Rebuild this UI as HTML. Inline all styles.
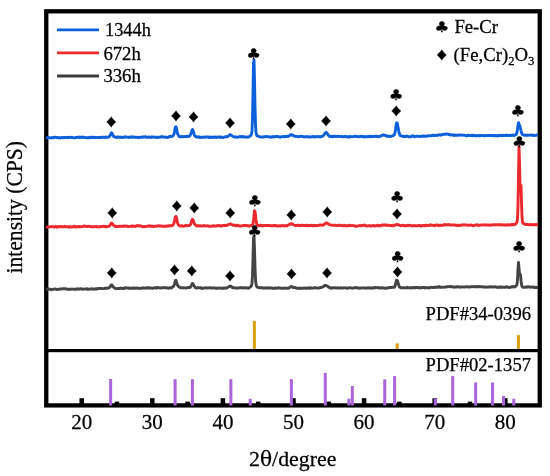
<!DOCTYPE html>
<html><head><meta charset="utf-8"><style>
html,body{margin:0;padding:0;background:#fff;}
svg{display:block;}
text{font-family:"Liberation Serif",serif;fill:#000;stroke:#000;stroke-width:0.25px;}
.tl{font-size:20.6px;text-anchor:middle;}
.lg{font-size:18px;}
.lg2{font-size:18px;}
.pdf{font-size:18.6px;}
.club{font-family:"DejaVu Sans",sans-serif;font-size:14.3px;text-anchor:middle;}
.dia{font-size:17.3px;text-anchor:middle;}
</style></head><body>
<svg width="550" height="476" viewBox="0 0 550 476">
<rect width="550" height="476" fill="#fff"/>
<rect x="79.45" y="398.2" width="4.5" height="6" fill="#000"/><rect x="150.05" y="398.2" width="4.5" height="6" fill="#000"/><rect x="220.65" y="398.2" width="4.5" height="6" fill="#000"/><rect x="291.25" y="398.2" width="4.5" height="6" fill="#000"/><rect x="361.85" y="398.2" width="4.5" height="6" fill="#000"/><rect x="432.45" y="398.2" width="4.5" height="6" fill="#000"/><rect x="503.05" y="398.2" width="4.5" height="6" fill="#000"/><rect x="114.75" y="401.6" width="4.5" height="3" fill="#000"/><rect x="185.35" y="401.6" width="4.5" height="3" fill="#000"/><rect x="255.95" y="401.6" width="4.5" height="3" fill="#000"/><rect x="326.55" y="401.6" width="4.5" height="3" fill="#000"/><rect x="397.15" y="401.6" width="4.5" height="3" fill="#000"/><rect x="467.75" y="401.6" width="4.5" height="3" fill="#000"/>
<rect x="46.25" y="11.3" width="493.5" height="394.1" fill="none" stroke="#000" stroke-width="4.3"/>
<rect x="252.89" y="320.9" width="3" height="28.1" fill="#D9A012"/><rect x="395.71" y="343.4" width="3" height="5.6" fill="#D9A012"/><rect x="516.93" y="335.1" width="3" height="13.9" fill="#D9A012"/><rect x="109.15" y="379.0" width="3" height="26.5" fill="#AA64DC"/><rect x="173.60" y="379.2" width="3" height="26.3" fill="#AA64DC"/><rect x="190.90" y="379.2" width="3" height="26.3" fill="#AA64DC"/><rect x="229.38" y="379.2" width="3" height="26.3" fill="#AA64DC"/><rect x="248.72" y="398.8" width="3" height="6.7" fill="#AA64DC"/><rect x="289.88" y="379.1" width="3" height="26.4" fill="#AA64DC"/><rect x="323.77" y="372.9" width="3" height="32.6" fill="#AA64DC"/><rect x="347.42" y="398.7" width="3" height="6.8" fill="#AA64DC"/><rect x="350.81" y="386.0" width="3" height="19.5" fill="#AA64DC"/><rect x="383.22" y="379.4" width="3" height="26.1" fill="#AA64DC"/><rect x="393.10" y="376.1" width="3" height="29.4" fill="#AA64DC"/><rect x="433.84" y="398.4" width="3" height="7.1" fill="#AA64DC"/><rect x="451.20" y="376.1" width="3" height="29.4" fill="#AA64DC"/><rect x="474.15" y="382.4" width="3" height="23.1" fill="#AA64DC"/><rect x="491.09" y="382.5" width="3" height="23.0" fill="#AA64DC"/><rect x="502.03" y="396.0" width="3" height="9.5" fill="#AA64DC"/><rect x="512.27" y="398.8" width="3" height="6.7" fill="#AA64DC"/>
<polyline points="46.0,289.31 46.5,289.46 47.0,288.92 47.5,289.26 48.0,289.40 48.5,288.97 49.0,289.23 49.5,288.92 50.0,289.26 50.5,289.33 51.0,289.70 51.5,289.41 52.0,289.34 52.5,289.48 53.0,289.27 53.5,289.12 54.0,289.09 54.5,289.13 55.0,288.96 55.5,289.15 56.0,289.27 56.5,289.25 57.0,289.53 57.5,289.33 58.0,289.51 58.5,289.28 59.0,289.37 59.5,288.94 60.0,289.06 60.5,289.07 61.0,289.01 61.5,288.96 62.0,288.97 62.5,288.91 63.0,288.60 63.5,288.71 64.0,288.77 64.5,288.82 65.0,288.75 65.5,288.87 66.0,289.10 66.5,289.06 67.0,288.98 67.5,289.27 68.0,289.37 68.5,289.42 69.0,289.49 69.5,289.26 70.0,289.16 70.5,289.32 71.0,289.12 71.5,289.07 72.0,289.13 72.5,289.16 73.0,289.06 73.5,289.23 74.0,289.12 74.5,289.21 75.0,289.33 75.5,289.32 76.0,289.33 76.5,288.99 77.0,288.76 77.5,288.74 78.0,288.93 78.5,289.22 79.0,288.91 79.5,288.99 80.0,288.83 80.5,288.75 81.0,288.79 81.5,288.98 82.0,289.01 82.5,289.20 83.0,288.92 83.5,289.09 84.0,289.19 84.5,289.10 85.0,289.12 85.5,288.94 86.0,288.73 86.5,288.73 87.0,288.68 87.5,289.29 88.0,289.05 88.5,289.28 89.0,289.16 89.5,289.10 90.0,289.15 90.5,288.90 91.0,289.05 91.5,289.04 92.0,288.69 92.5,288.86 93.0,288.96 93.5,288.99 94.0,289.21 94.5,288.99 95.0,289.01 95.5,289.07 96.0,288.80 96.5,289.02 97.0,288.67 97.5,288.49 98.0,288.70 98.5,288.54 99.0,288.61 99.5,288.38 100.0,288.54 100.5,288.42 101.0,288.61 101.5,288.38 102.0,288.59 102.5,288.59 103.0,288.64 103.5,288.64 104.0,288.67 104.5,288.42 105.0,288.04 105.5,288.26 106.0,288.22 106.5,288.26 107.0,288.43 107.5,288.07 108.0,288.04 108.5,287.97 109.0,287.72 109.5,287.58 110.0,287.04 110.5,286.13 111.0,285.15 111.5,284.87 112.0,284.94 112.5,285.85 113.0,286.80 113.5,287.12 114.0,287.50 114.5,287.91 115.0,288.19 115.5,288.43 116.0,288.58 116.5,288.70 117.0,288.53 117.5,288.45 118.0,288.59 118.5,288.45 119.0,288.63 119.5,288.26 120.0,288.45 120.5,288.41 121.0,288.06 121.5,288.37 122.0,288.44 122.5,288.43 123.0,288.22 123.5,288.20 124.0,288.55 124.5,288.33 125.0,287.72 125.5,287.82 126.0,287.82 126.5,288.00 127.0,288.07 127.5,288.01 128.0,287.98 128.5,288.30 129.0,288.05 129.5,288.50 130.0,288.32 130.5,288.11 131.0,288.32 131.5,288.40 132.0,288.16 132.5,288.33 133.0,287.97 133.5,287.91 134.0,288.24 134.5,288.19 135.0,287.96 135.5,288.15 136.0,288.34 136.5,288.27 137.0,287.91 137.5,287.96 138.0,288.12 138.5,288.27 139.0,288.56 139.5,288.35 140.0,288.18 140.5,288.15 141.0,288.35 141.5,288.09 142.0,288.33 142.5,287.74 143.0,288.02 143.5,287.92 144.0,288.06 144.5,288.19 145.0,287.92 145.5,287.96 146.0,288.03 146.5,288.14 147.0,287.92 147.5,287.78 148.0,287.52 148.5,288.17 149.0,288.06 149.5,287.99 150.0,287.71 150.5,287.99 151.0,287.89 151.5,288.18 152.0,288.26 152.5,288.15 153.0,288.21 153.5,287.92 154.0,287.88 154.5,287.82 155.0,287.65 155.5,287.79 156.0,287.84 156.5,288.15 157.0,287.48 157.5,287.55 158.0,287.55 158.5,287.64 159.0,287.84 159.5,287.97 160.0,287.97 160.5,287.88 161.0,288.00 161.5,288.05 162.0,287.68 162.5,287.74 163.0,287.58 163.5,287.51 164.0,287.71 164.5,287.81 165.0,287.88 165.5,287.74 166.0,287.77 166.5,287.66 167.0,287.82 167.5,287.97 168.0,288.24 168.5,288.31 169.0,287.97 169.5,287.82 170.0,287.63 170.5,287.71 171.0,288.04 171.5,287.98 172.0,287.36 172.5,287.06 173.0,286.67 173.5,286.37 174.0,285.41 174.5,283.93 175.0,282.30 175.5,280.48 176.0,280.19 176.5,281.93 177.0,283.80 177.5,285.23 178.0,285.99 178.5,286.51 179.0,286.60 179.5,287.09 180.0,287.37 180.5,287.72 181.0,287.73 181.5,287.64 182.0,287.58 182.5,288.03 183.0,287.64 183.5,287.76 184.0,287.80 184.5,287.93 185.0,287.83 185.5,287.92 186.0,288.03 186.5,287.92 187.0,287.79 187.5,287.75 188.0,287.56 188.5,287.56 189.0,287.50 189.5,287.47 190.0,287.48 190.5,287.15 191.0,286.12 191.5,285.06 192.0,283.90 192.5,283.43 193.0,283.76 193.5,284.81 194.0,285.81 194.5,286.53 195.0,287.28 195.5,287.77 196.0,287.94 196.5,287.98 197.0,287.98 197.5,287.86 198.0,287.55 198.5,287.81 199.0,287.89 199.5,287.80 200.0,287.68 200.5,288.01 201.0,287.65 201.5,288.09 202.0,288.14 202.5,288.49 203.0,288.15 203.5,288.07 204.0,287.93 204.5,287.97 205.0,287.93 205.5,287.81 206.0,288.06 206.5,287.88 207.0,287.82 207.5,287.98 208.0,287.88 208.5,287.84 209.0,287.95 209.5,287.89 210.0,287.70 210.5,287.79 211.0,287.82 211.5,288.19 212.0,287.90 212.5,288.10 213.0,287.91 213.5,287.87 214.0,287.85 214.5,287.95 215.0,288.11 215.5,288.37 216.0,288.09 216.5,288.28 217.0,288.33 217.5,288.33 218.0,288.05 218.5,288.17 219.0,288.07 219.5,288.09 220.0,287.99 220.5,288.09 221.0,288.23 221.5,288.32 222.0,288.13 222.5,288.23 223.0,288.37 223.5,288.02 224.0,288.24 224.5,287.86 225.0,287.96 225.5,288.02 226.0,288.20 226.5,288.06 227.0,287.79 227.5,287.49 228.0,287.09 228.5,287.05 229.0,286.67 229.5,286.21 230.0,286.16 230.5,286.05 231.0,286.27 231.5,286.61 232.0,287.32 232.5,287.78 233.0,287.80 233.5,287.56 234.0,287.75 234.5,287.82 235.0,287.92 235.5,288.01 236.0,287.91 236.5,288.08 237.0,288.16 237.5,288.10 238.0,287.95 238.5,287.85 239.0,288.00 239.5,287.77 240.0,287.79 240.5,287.70 241.0,287.53 241.5,287.78 242.0,287.82 242.5,287.85 243.0,288.02 243.5,287.69 244.0,287.74 244.5,287.83 245.0,287.97 245.5,287.71 246.0,287.86 246.5,287.85 247.0,288.03 247.5,288.08 248.0,287.98 248.5,288.17 249.0,287.86 249.5,287.53 250.0,287.25 250.5,286.84 251.0,286.53 251.5,285.47 252.0,283.21 252.5,275.40 253.0,257.93 253.5,237.97 254.0,236.07 254.5,249.19 255.0,267.08 255.5,278.99 256.0,284.23 256.5,285.89 257.0,286.89 257.5,287.27 258.0,287.22 258.5,287.51 259.0,287.68 259.5,287.68 260.0,287.74 260.5,287.72 261.0,287.68 261.5,287.45 262.0,287.62 262.5,287.96 263.0,288.20 263.5,288.05 264.0,287.88 264.5,287.88 265.0,288.07 265.5,288.10 266.0,287.95 266.5,288.03 267.0,287.98 267.5,288.08 268.0,287.98 268.5,287.74 269.0,287.86 269.5,288.06 270.0,287.86 270.5,287.91 271.0,288.11 271.5,288.02 272.0,287.92 272.5,288.33 273.0,288.36 273.5,288.42 274.0,288.11 274.5,288.38 275.0,287.96 275.5,287.91 276.0,288.10 276.5,288.32 277.0,288.06 277.5,287.95 278.0,288.03 278.5,287.71 279.0,287.97 279.5,288.11 280.0,288.02 280.5,288.14 281.0,288.25 281.5,288.24 282.0,288.27 282.5,288.46 283.0,288.22 283.5,288.19 284.0,288.05 284.5,288.24 285.0,288.09 285.5,288.16 286.0,288.13 286.5,288.10 287.0,288.35 287.5,288.16 288.0,288.26 288.5,288.15 289.0,288.06 289.5,287.59 290.0,287.33 290.5,287.00 291.0,286.54 291.5,286.53 292.0,286.65 292.5,286.94 293.0,287.49 293.5,287.56 294.0,287.47 294.5,287.42 295.0,287.62 295.5,287.70 296.0,287.87 296.5,288.07 297.0,288.40 297.5,288.34 298.0,288.34 298.5,288.14 299.0,288.24 299.5,288.44 300.0,288.56 300.5,288.06 301.0,288.25 301.5,288.48 302.0,288.49 302.5,288.09 303.0,288.06 303.5,288.19 304.0,288.24 304.5,288.06 305.0,287.93 305.5,288.18 306.0,287.93 306.5,288.25 307.0,288.20 307.5,288.22 308.0,287.95 308.5,287.91 309.0,288.11 309.5,287.85 310.0,288.31 310.5,287.98 311.0,287.81 311.5,287.92 312.0,288.07 312.5,288.19 313.0,288.08 313.5,288.03 314.0,288.00 314.5,287.91 315.0,287.51 315.5,287.88 316.0,287.98 316.5,288.01 317.0,287.89 317.5,287.96 318.0,287.95 318.5,287.92 319.0,288.09 319.5,287.69 320.0,287.76 320.5,287.53 321.0,287.46 321.5,287.66 322.0,287.24 322.5,287.03 323.0,286.68 323.5,286.59 324.0,286.05 324.5,285.50 325.0,285.50 325.5,285.39 326.0,285.43 326.5,285.85 327.0,285.93 327.5,286.22 328.0,286.61 328.5,286.99 329.0,287.13 329.5,287.54 330.0,288.02 330.5,287.87 331.0,288.19 331.5,287.70 332.0,288.02 332.5,287.91 333.0,287.93 333.5,287.87 334.0,287.78 334.5,287.62 335.0,287.67 335.5,288.00 336.0,288.17 336.5,288.02 337.0,287.89 337.5,287.79 338.0,287.64 338.5,288.07 339.0,288.13 339.5,288.08 340.0,287.94 340.5,287.76 341.0,288.06 341.5,288.14 342.0,287.90 342.5,288.08 343.0,287.83 343.5,287.98 344.0,287.79 344.5,287.78 345.0,287.92 345.5,288.00 346.0,288.14 346.5,287.91 347.0,288.19 347.5,288.31 348.0,288.15 348.5,288.14 349.0,287.91 349.5,287.88 350.0,287.66 350.5,287.77 351.0,287.86 351.5,288.11 352.0,288.19 352.5,288.21 353.0,288.02 353.5,287.93 354.0,287.85 354.5,287.90 355.0,287.56 355.5,287.82 356.0,287.58 356.5,287.61 357.0,287.72 357.5,287.70 358.0,288.06 358.5,287.97 359.0,288.21 359.5,288.28 360.0,288.03 360.5,288.04 361.0,288.20 361.5,288.01 362.0,287.97 362.5,287.84 363.0,287.86 363.5,287.81 364.0,287.85 364.5,288.03 365.0,288.21 365.5,288.10 366.0,288.04 366.5,288.12 367.0,287.97 367.5,287.74 368.0,287.99 368.5,287.78 369.0,287.97 369.5,287.76 370.0,288.12 370.5,287.83 371.0,287.99 371.5,288.20 372.0,287.90 372.5,288.14 373.0,287.88 373.5,287.57 374.0,287.81 374.5,287.95 375.0,287.87 375.5,287.43 376.0,287.59 376.5,287.64 377.0,287.66 377.5,287.68 378.0,287.44 378.5,287.50 379.0,287.95 379.5,288.17 380.0,287.97 380.5,287.79 381.0,287.88 381.5,288.04 382.0,288.08 382.5,287.78 383.0,287.82 383.5,287.84 384.0,288.08 384.5,288.18 385.0,288.12 385.5,288.20 386.0,287.97 386.5,288.17 387.0,287.94 387.5,287.94 388.0,288.03 388.5,287.76 389.0,287.63 389.5,287.37 390.0,287.53 390.5,287.59 391.0,287.56 391.5,287.67 392.0,287.26 392.5,287.35 393.0,287.39 393.5,287.28 394.0,287.27 394.5,287.14 395.0,286.06 395.5,284.26 396.0,281.97 396.5,280.20 397.0,280.21 397.5,281.04 398.0,282.68 398.5,284.20 399.0,285.83 399.5,286.77 400.0,287.28 400.5,287.82 401.0,287.71 401.5,287.67 402.0,287.76 402.5,287.88 403.0,287.58 403.5,287.69 404.0,287.58 404.5,287.75 405.0,287.99 405.5,287.91 406.0,287.83 406.5,287.84 407.0,287.30 407.5,287.62 408.0,287.78 408.5,287.81 409.0,287.73 409.5,287.62 410.0,287.66 410.5,287.92 411.0,287.85 411.5,288.06 412.0,287.50 412.5,287.54 413.0,287.69 413.5,287.72 414.0,287.46 414.5,287.48 415.0,287.82 415.5,287.58 416.0,287.49 416.5,287.42 417.0,287.47 417.5,287.71 418.0,287.84 418.5,287.47 419.0,287.85 419.5,287.72 420.0,287.65 420.5,287.98 421.0,287.87 421.5,287.59 422.0,287.53 422.5,287.47 423.0,287.38 423.5,287.43 424.0,287.67 424.5,287.72 425.0,287.44 425.5,287.99 426.0,287.66 426.5,287.64 427.0,287.62 427.5,287.72 428.0,287.59 428.5,287.64 429.0,287.95 429.5,287.78 430.0,287.47 430.5,287.52 431.0,287.35 431.5,287.32 432.0,287.39 432.5,287.45 433.0,287.37 433.5,287.52 434.0,287.42 434.5,287.16 435.0,287.38 435.5,287.29 436.0,287.50 436.5,287.30 437.0,287.38 437.5,287.38 438.0,286.86 438.5,286.74 439.0,286.73 439.5,287.16 440.0,286.84 440.5,287.12 441.0,287.32 441.5,287.33 442.0,287.36 442.5,287.17 443.0,287.13 443.5,287.15 444.0,287.18 444.5,287.25 445.0,287.12 445.5,286.95 446.0,286.87 446.5,286.99 447.0,286.69 447.5,286.58 448.0,286.65 448.5,286.66 449.0,286.71 449.5,286.32 450.0,286.48 450.5,286.61 451.0,286.86 451.5,286.53 452.0,286.63 452.5,286.82 453.0,286.94 453.5,287.13 454.0,287.22 454.5,286.92 455.0,287.02 455.5,286.92 456.0,286.78 456.5,287.10 457.0,286.91 457.5,286.77 458.0,286.76 458.5,286.67 459.0,286.95 459.5,287.00 460.0,287.21 460.5,287.17 461.0,286.96 461.5,287.13 462.0,286.93 462.5,286.85 463.0,286.85 463.5,286.89 464.0,287.11 464.5,286.93 465.0,286.99 465.5,286.96 466.0,286.73 466.5,286.63 467.0,286.71 467.5,286.87 468.0,286.95 468.5,287.03 469.0,287.00 469.5,286.90 470.0,286.99 470.5,286.80 471.0,286.62 471.5,286.70 472.0,286.55 472.5,286.62 473.0,286.62 473.5,286.66 474.0,286.77 474.5,286.70 475.0,286.73 475.5,286.52 476.0,286.72 476.5,286.66 477.0,286.85 477.5,286.40 478.0,286.49 478.5,286.72 479.0,286.39 479.5,286.56 480.0,286.74 480.5,286.85 481.0,286.63 481.5,286.81 482.0,286.90 482.5,286.76 483.0,286.97 483.5,286.96 484.0,286.97 484.5,286.89 485.0,287.02 485.5,287.02 486.0,287.20 486.5,287.19 487.0,287.00 487.5,286.95 488.0,287.12 488.5,287.00 489.0,287.06 489.5,287.12 490.0,287.03 490.5,286.61 491.0,286.78 491.5,286.90 492.0,286.96 492.5,286.84 493.0,287.11 493.5,287.04 494.0,286.91 494.5,286.82 495.0,286.95 495.5,286.78 496.0,286.69 496.5,287.16 497.0,287.32 497.5,287.37 498.0,287.46 498.5,287.38 499.0,286.93 499.5,287.17 500.0,287.31 500.5,287.27 501.0,286.82 501.5,287.11 502.0,287.30 502.5,287.09 503.0,287.08 503.5,287.18 504.0,287.09 504.5,287.24 505.0,287.16 505.5,287.21 506.0,287.14 506.5,286.82 507.0,286.71 507.5,287.37 508.0,287.26 508.5,287.38 509.0,287.41 509.5,287.53 510.0,287.40 510.5,287.11 511.0,287.04 511.5,286.66 512.0,286.72 512.5,286.94 513.0,286.52 513.5,286.67 514.0,286.84 514.5,287.00 515.0,286.66 515.5,286.43 516.0,285.95 516.5,285.52 517.0,284.32 517.5,279.77 518.0,269.43 518.5,262.47 519.0,267.90 519.5,273.94 520.0,274.12 520.5,274.73 521.0,280.25 521.5,284.42 522.0,286.35 522.5,286.97 523.0,287.34 523.5,287.18 524.0,287.24 524.5,287.36 525.0,287.28 525.5,287.22 526.0,287.09 526.5,286.98 527.0,286.77 527.5,287.21 528.0,287.05 528.5,286.68 529.0,286.86 529.5,286.93 530.0,287.00 530.5,287.34 531.0,287.20 531.5,287.10 532.0,286.95 532.5,286.99 533.0,286.94 533.5,287.03 534.0,287.59 534.5,287.45 535.0,287.15 535.5,287.46 536.0,287.46 536.5,287.45 537.0,287.43 537.5,287.43 538.0,287.41" fill="none" stroke="#444" stroke-width="2.9" stroke-linejoin="round"/>
<polyline points="46.0,226.91 46.5,227.04 47.0,227.11 47.5,227.18 48.0,227.17 48.5,227.00 49.0,226.95 49.5,226.87 50.0,226.81 50.5,226.80 51.0,226.51 51.5,226.59 52.0,226.69 52.5,226.58 53.0,226.68 53.5,226.84 54.0,226.81 54.5,227.19 55.0,226.58 55.5,226.64 56.0,226.39 56.5,226.74 57.0,227.25 57.5,226.62 58.0,226.72 58.5,226.85 59.0,226.78 59.5,226.89 60.0,226.45 60.5,226.74 61.0,226.83 61.5,226.82 62.0,226.70 62.5,226.85 63.0,226.73 63.5,226.79 64.0,226.69 64.5,226.32 65.0,226.49 65.5,226.63 66.0,226.82 66.5,226.64 67.0,226.68 67.5,226.82 68.0,226.81 68.5,227.01 69.0,227.26 69.5,226.88 70.0,226.48 70.5,226.73 71.0,227.00 71.5,227.06 72.0,227.07 72.5,226.81 73.0,226.64 73.5,226.83 74.0,226.61 74.5,226.32 75.0,226.29 75.5,226.90 76.0,227.16 76.5,226.85 77.0,226.65 77.5,226.70 78.0,226.56 78.5,226.84 79.0,226.76 79.5,226.52 80.0,226.81 80.5,226.65 81.0,226.69 81.5,226.67 82.0,226.60 82.5,226.68 83.0,226.54 83.5,226.25 84.0,226.00 84.5,226.03 85.0,226.13 85.5,226.32 86.0,226.45 86.5,226.62 87.0,226.64 87.5,226.48 88.0,226.40 88.5,226.10 89.0,226.27 89.5,226.49 90.0,226.62 90.5,226.59 91.0,226.55 91.5,226.73 92.0,226.67 92.5,226.76 93.0,226.79 93.5,226.74 94.0,226.90 94.5,226.66 95.0,226.55 95.5,226.40 96.0,226.31 96.5,226.68 97.0,226.94 97.5,226.78 98.0,226.78 98.5,226.89 99.0,226.88 99.5,226.95 100.0,226.54 100.5,226.41 101.0,226.52 101.5,226.76 102.0,226.67 102.5,226.43 103.0,226.38 103.5,226.29 104.0,226.19 104.5,226.55 105.0,226.38 105.5,226.39 106.0,226.77 106.5,226.81 107.0,226.67 107.5,226.39 108.0,226.37 108.5,226.51 109.0,226.29 109.5,226.04 110.0,225.32 110.5,224.51 111.0,223.51 111.5,223.00 112.0,223.35 112.5,223.69 113.0,224.56 113.5,225.31 114.0,225.66 114.5,225.90 115.0,226.22 115.5,226.63 116.0,226.62 116.5,226.56 117.0,226.19 117.5,226.60 118.0,226.51 118.5,226.44 119.0,226.20 119.5,226.25 120.0,226.10 120.5,226.21 121.0,226.35 121.5,226.36 122.0,226.41 122.5,226.23 123.0,226.54 123.5,226.34 124.0,226.02 124.5,226.11 125.0,226.07 125.5,225.99 126.0,226.07 126.5,226.23 127.0,226.06 127.5,226.14 128.0,226.47 128.5,226.53 129.0,226.42 129.5,226.40 130.0,226.35 130.5,226.32 131.0,226.45 131.5,226.37 132.0,225.91 132.5,226.06 133.0,226.00 133.5,226.23 134.0,226.14 134.5,226.23 135.0,226.64 135.5,226.31 136.0,226.09 136.5,225.91 137.0,225.62 137.5,225.54 138.0,225.90 138.5,225.93 139.0,225.72 139.5,225.67 140.0,226.01 140.5,225.96 141.0,226.01 141.5,226.16 142.0,226.43 142.5,226.70 143.0,226.70 143.5,226.53 144.0,226.44 144.5,226.68 145.0,226.75 145.5,226.48 146.0,226.45 146.5,226.40 147.0,226.33 147.5,226.19 148.0,225.95 148.5,225.95 149.0,225.76 149.5,226.15 150.0,226.26 150.5,226.01 151.0,226.32 151.5,226.42 152.0,225.97 152.5,226.38 153.0,226.44 153.5,226.70 154.0,226.26 154.5,226.31 155.0,226.32 155.5,226.28 156.0,226.26 156.5,226.40 157.0,226.02 157.5,225.84 158.0,225.70 158.5,225.77 159.0,225.80 159.5,225.99 160.0,226.08 160.5,226.09 161.0,225.97 161.5,225.94 162.0,226.17 162.5,226.27 163.0,226.20 163.5,226.09 164.0,226.35 164.5,226.12 165.0,226.20 165.5,226.34 166.0,226.16 166.5,226.24 167.0,225.94 167.5,226.13 168.0,226.09 168.5,225.73 169.0,225.91 169.5,225.72 170.0,225.98 170.5,225.76 171.0,225.69 171.5,225.68 172.0,225.49 172.5,225.36 173.0,224.89 173.5,224.33 174.0,223.03 174.5,221.07 175.0,218.12 175.5,216.58 176.0,216.46 176.5,217.82 177.0,220.36 177.5,222.59 178.0,224.19 178.5,224.73 179.0,225.46 179.5,225.56 180.0,226.07 180.5,225.93 181.0,226.00 181.5,225.86 182.0,225.64 182.5,225.92 183.0,226.05 183.5,226.24 184.0,226.23 184.5,225.97 185.0,225.61 185.5,225.57 186.0,225.54 186.5,225.48 187.0,225.69 187.5,225.75 188.0,225.65 188.5,225.63 189.0,225.50 189.5,225.37 190.0,225.13 190.5,224.57 191.0,223.21 191.5,221.36 192.0,220.11 192.5,219.33 193.0,220.08 193.5,221.18 194.0,222.76 194.5,224.03 195.0,224.56 195.5,225.00 196.0,225.45 196.5,225.77 197.0,226.06 197.5,225.80 198.0,225.55 198.5,225.75 199.0,225.95 199.5,225.94 200.0,225.67 200.5,225.89 201.0,226.02 201.5,226.06 202.0,225.89 202.5,225.94 203.0,226.05 203.5,225.88 204.0,225.54 204.5,225.74 205.0,225.88 205.5,225.88 206.0,226.04 206.5,225.86 207.0,225.85 207.5,225.80 208.0,225.93 208.5,226.19 209.0,226.02 209.5,226.33 210.0,226.42 210.5,226.34 211.0,226.25 211.5,226.41 212.0,226.16 212.5,226.01 213.0,225.76 213.5,225.88 214.0,226.11 214.5,226.10 215.0,226.07 215.5,225.94 216.0,225.93 216.5,225.63 217.0,225.90 217.5,225.79 218.0,225.61 218.5,225.55 219.0,225.51 219.5,225.78 220.0,225.98 220.5,225.66 221.0,225.88 221.5,226.00 222.0,225.81 222.5,225.52 223.0,225.48 223.5,225.48 224.0,225.64 224.5,225.61 225.0,225.28 225.5,225.48 226.0,225.26 226.5,225.53 227.0,225.26 227.5,225.10 228.0,224.84 228.5,224.56 229.0,224.53 229.5,224.29 230.0,224.09 230.5,224.09 231.0,223.99 231.5,224.33 232.0,224.67 232.5,224.87 233.0,225.29 233.5,225.32 234.0,225.34 234.5,225.29 235.0,225.08 235.5,225.43 236.0,225.78 236.5,225.77 237.0,225.57 237.5,225.13 238.0,225.39 238.5,225.73 239.0,225.77 239.5,225.91 240.0,226.09 240.5,226.13 241.0,225.87 241.5,225.99 242.0,226.00 242.5,225.59 243.0,225.55 243.5,225.34 244.0,225.45 244.5,225.63 245.0,225.44 245.5,225.15 246.0,225.57 246.5,225.66 247.0,225.90 247.5,225.53 248.0,225.73 248.5,226.03 249.0,226.18 249.5,225.85 250.0,225.72 250.5,225.53 251.0,225.59 251.5,225.56 252.0,225.25 252.5,224.51 253.0,223.55 253.5,220.51 254.0,215.44 254.5,210.70 255.0,211.20 255.5,215.15 256.0,219.74 256.5,223.00 257.0,224.76 257.5,225.07 258.0,225.32 258.5,225.59 259.0,225.77 259.5,225.75 260.0,225.42 260.5,225.23 261.0,225.40 261.5,225.52 262.0,225.99 262.5,225.66 263.0,225.83 263.5,225.86 264.0,225.44 264.5,225.34 265.0,225.46 265.5,225.42 266.0,225.45 266.5,225.58 267.0,225.43 267.5,225.57 268.0,225.46 268.5,225.40 269.0,225.56 269.5,225.46 270.0,225.55 270.5,225.85 271.0,225.74 271.5,225.65 272.0,225.75 272.5,225.61 273.0,225.79 273.5,225.48 274.0,225.63 274.5,225.52 275.0,225.40 275.5,225.79 276.0,225.55 276.5,225.88 277.0,225.88 277.5,226.02 278.0,225.67 278.5,225.85 279.0,226.00 279.5,225.81 280.0,225.70 280.5,226.09 281.0,225.92 281.5,225.70 282.0,225.54 282.5,225.63 283.0,225.66 283.5,225.65 284.0,225.92 284.5,225.71 285.0,225.73 285.5,225.91 286.0,225.57 286.5,225.72 287.0,225.94 287.5,225.47 288.0,225.19 288.5,224.95 289.0,224.54 289.5,224.55 290.0,223.96 290.5,223.88 291.0,223.97 291.5,223.59 292.0,223.81 292.5,223.86 293.0,224.53 293.5,224.75 294.0,225.01 294.5,225.24 295.0,225.46 295.5,225.44 296.0,225.49 296.5,225.42 297.0,225.50 297.5,225.32 298.0,225.43 298.5,225.15 299.0,225.24 299.5,225.72 300.0,225.69 300.5,225.42 301.0,225.54 301.5,225.39 302.0,225.18 302.5,225.22 303.0,225.51 303.5,225.62 304.0,225.60 304.5,225.43 305.0,225.31 305.5,225.67 306.0,225.69 306.5,225.49 307.0,225.16 307.5,225.09 308.0,225.75 308.5,225.49 309.0,225.52 309.5,225.60 310.0,225.57 310.5,225.54 311.0,225.32 311.5,225.25 312.0,225.70 312.5,225.52 313.0,225.71 313.5,225.36 314.0,225.41 314.5,225.53 315.0,225.74 315.5,225.48 316.0,225.63 316.5,225.68 317.0,225.50 317.5,225.61 318.0,225.43 318.5,225.33 319.0,225.41 319.5,224.96 320.0,225.15 320.5,225.09 321.0,224.95 321.5,225.03 322.0,225.25 322.5,225.10 323.0,225.22 323.5,224.73 324.0,224.25 324.5,224.28 325.0,223.90 325.5,223.59 326.0,223.00 326.5,222.97 327.0,223.00 327.5,223.31 328.0,223.61 328.5,224.20 329.0,224.37 329.5,224.52 330.0,224.58 330.5,225.13 331.0,225.14 331.5,225.10 332.0,225.11 332.5,225.20 333.0,225.12 333.5,225.25 334.0,225.27 334.5,225.30 335.0,225.24 335.5,225.40 336.0,225.40 336.5,225.51 337.0,225.60 337.5,225.67 338.0,225.26 338.5,225.32 339.0,225.30 339.5,225.58 340.0,225.32 340.5,225.32 341.0,225.40 341.5,225.44 342.0,225.71 342.5,225.61 343.0,225.80 343.5,225.48 344.0,225.23 344.5,225.62 345.0,225.72 345.5,225.79 346.0,225.76 346.5,225.81 347.0,225.54 347.5,225.76 348.0,225.63 348.5,225.83 349.0,225.78 349.5,225.39 350.0,225.27 350.5,225.64 351.0,225.63 351.5,225.58 352.0,225.66 352.5,225.60 353.0,225.53 353.5,225.61 354.0,225.67 354.5,225.95 355.0,225.85 355.5,226.12 356.0,226.27 356.5,226.35 357.0,226.27 357.5,226.06 358.0,225.93 358.5,225.81 359.0,225.62 359.5,225.63 360.0,225.54 360.5,225.89 361.0,225.90 361.5,225.73 362.0,225.36 362.5,225.48 363.0,225.48 363.5,225.36 364.0,225.28 364.5,225.03 365.0,225.39 365.5,225.49 366.0,226.03 366.5,225.88 367.0,225.77 367.5,225.99 368.0,225.88 368.5,225.82 369.0,225.69 369.5,225.57 370.0,225.88 370.5,225.97 371.0,226.15 371.5,225.89 372.0,225.80 372.5,225.58 373.0,225.78 373.5,225.48 374.0,225.64 374.5,225.84 375.0,226.01 375.5,225.69 376.0,225.86 376.5,225.64 377.0,225.49 377.5,225.30 378.0,225.62 378.5,225.90 379.0,225.65 379.5,225.46 380.0,225.39 380.5,225.83 381.0,225.78 381.5,225.43 382.0,224.94 382.5,224.80 383.0,225.04 383.5,225.30 384.0,225.12 384.5,224.98 385.0,224.98 385.5,224.78 386.0,225.21 386.5,225.13 387.0,225.48 387.5,225.21 388.0,225.13 388.5,225.36 389.0,225.31 389.5,225.56 390.0,225.57 390.5,225.37 391.0,225.56 391.5,225.72 392.0,225.31 392.5,225.73 393.0,225.73 393.5,225.76 394.0,225.27 394.5,225.13 395.0,225.06 395.5,225.21 396.0,224.80 396.5,224.64 397.0,224.37 397.5,224.58 398.0,224.88 398.5,224.75 399.0,224.92 399.5,225.25 400.0,225.66 400.5,225.75 401.0,225.63 401.5,225.40 402.0,225.31 402.5,225.30 403.0,225.45 403.5,225.50 404.0,225.84 404.5,225.79 405.0,225.52 405.5,225.83 406.0,225.91 406.5,225.81 407.0,225.59 407.5,225.26 408.0,225.21 408.5,225.53 409.0,225.42 409.5,225.25 410.0,225.43 410.5,225.54 411.0,225.67 411.5,225.76 412.0,225.95 412.5,225.66 413.0,225.81 413.5,225.55 414.0,225.69 414.5,225.69 415.0,225.70 415.5,225.83 416.0,225.73 416.5,225.88 417.0,225.92 417.5,225.82 418.0,225.63 418.5,225.48 419.0,225.43 419.5,225.46 420.0,225.51 420.5,226.07 421.0,225.98 421.5,225.95 422.0,225.63 422.5,225.46 423.0,225.43 423.5,225.49 424.0,225.31 424.5,225.67 425.0,225.49 425.5,225.68 426.0,225.17 426.5,225.28 427.0,225.39 427.5,225.44 428.0,225.54 428.5,225.54 429.0,225.51 429.5,225.12 430.0,225.10 430.5,224.78 431.0,225.13 431.5,225.27 432.0,225.26 432.5,225.14 433.0,225.11 433.5,225.52 434.0,225.74 434.5,225.55 435.0,225.68 435.5,225.23 436.0,224.89 436.5,224.95 437.0,224.91 437.5,224.94 438.0,225.08 438.5,225.68 439.0,225.37 439.5,225.31 440.0,225.31 440.5,225.24 441.0,225.38 441.5,225.61 442.0,225.20 442.5,225.20 443.0,225.12 443.5,225.18 444.0,224.87 444.5,224.64 445.0,224.40 445.5,224.76 446.0,224.92 446.5,224.98 447.0,224.58 447.5,224.69 448.0,224.69 448.5,224.56 449.0,224.57 449.5,224.86 450.0,225.01 450.5,225.00 451.0,225.09 451.5,224.94 452.0,224.97 452.5,224.99 453.0,225.09 453.5,225.04 454.0,224.99 454.5,224.97 455.0,224.86 455.5,225.31 456.0,225.27 456.5,225.24 457.0,225.55 457.5,225.58 458.0,225.06 458.5,225.15 459.0,225.24 459.5,225.47 460.0,225.51 460.5,225.44 461.0,225.04 461.5,224.86 462.0,224.96 462.5,225.06 463.0,224.84 463.5,224.83 464.0,224.81 464.5,224.89 465.0,224.98 465.5,224.93 466.0,224.72 466.5,225.05 467.0,225.30 467.5,225.15 468.0,225.26 468.5,225.23 469.0,225.24 469.5,225.22 470.0,224.98 470.5,225.08 471.0,225.22 471.5,224.95 472.0,225.31 472.5,225.55 473.0,225.64 473.5,225.73 474.0,225.56 474.5,225.26 475.0,225.03 475.5,224.86 476.0,224.92 476.5,224.93 477.0,225.06 477.5,224.66 478.0,225.19 478.5,225.51 479.0,225.28 479.5,225.27 480.0,225.23 480.5,225.17 481.0,225.04 481.5,224.98 482.0,224.82 482.5,224.90 483.0,224.92 483.5,224.99 484.0,224.82 484.5,224.87 485.0,224.91 485.5,225.03 486.0,224.80 486.5,224.93 487.0,225.11 487.5,225.15 488.0,225.00 488.5,224.89 489.0,224.86 489.5,225.02 490.0,225.27 490.5,225.10 491.0,224.92 491.5,224.99 492.0,225.00 492.5,224.81 493.0,224.72 493.5,224.78 494.0,224.96 494.5,224.73 495.0,224.62 495.5,224.83 496.0,224.64 496.5,224.77 497.0,224.89 497.5,224.88 498.0,224.70 498.5,224.77 499.0,224.76 499.5,224.88 500.0,224.73 500.5,224.99 501.0,224.65 501.5,224.71 502.0,224.78 502.5,224.99 503.0,224.83 503.5,224.94 504.0,224.81 504.5,224.96 505.0,225.23 505.5,225.00 506.0,225.01 506.5,224.77 507.0,224.96 507.5,225.12 508.0,224.99 508.5,224.70 509.0,224.79 509.5,224.98 510.0,225.07 510.5,225.06 511.0,224.57 511.5,224.47 512.0,224.76 512.5,224.44 513.0,224.65 513.5,224.87 514.0,224.75 514.5,224.68 515.0,224.28 515.5,223.75 516.0,223.44 516.5,222.91 517.0,221.93 517.5,218.84 518.0,206.16 518.5,175.44 519.0,146.77 519.5,161.81 520.0,185.66 520.5,185.00 521.0,185.23 521.5,202.59 522.0,216.45 522.5,221.86 523.0,223.20 523.5,223.48 524.0,223.74 524.5,223.99 525.0,224.12 525.5,224.48 526.0,224.32 526.5,224.53 527.0,224.61 527.5,224.43 528.0,224.55 528.5,224.60 529.0,224.75 529.5,224.67 530.0,224.76 530.5,224.47 531.0,224.40 531.5,224.70 532.0,224.93 532.5,224.88 533.0,224.75 533.5,224.97 534.0,224.54 534.5,224.51 535.0,224.76 535.5,224.91 536.0,224.70 536.5,224.42 537.0,224.85 537.5,224.88 538.0,224.71" fill="none" stroke="#EC2A2E" stroke-width="2.9" stroke-linejoin="round"/>
<polyline points="46.0,137.65 46.5,137.76 47.0,137.69 47.5,137.63 48.0,137.48 48.5,137.52 49.0,137.78 49.5,137.82 50.0,137.94 50.5,137.88 51.0,137.86 51.5,137.82 52.0,137.45 52.5,137.69 53.0,137.77 53.5,137.81 54.0,137.44 54.5,137.21 55.0,137.22 55.5,137.30 56.0,137.49 56.5,137.54 57.0,137.67 57.5,137.54 58.0,137.63 58.5,137.70 59.0,137.55 59.5,137.88 60.0,137.88 60.5,137.99 61.0,137.72 61.5,137.54 62.0,137.51 62.5,137.52 63.0,137.67 63.5,137.68 64.0,137.57 64.5,137.40 65.0,137.38 65.5,137.68 66.0,137.50 66.5,137.57 67.0,137.65 67.5,137.35 68.0,137.45 68.5,137.73 69.0,137.30 69.5,137.35 70.0,137.41 70.5,137.32 71.0,137.50 71.5,137.51 72.0,137.26 72.5,137.52 73.0,137.65 73.5,137.78 74.0,137.94 74.5,137.84 75.0,137.74 75.5,137.42 76.0,137.57 76.5,137.44 77.0,137.39 77.5,137.21 78.0,137.16 78.5,137.20 79.0,137.56 79.5,137.17 80.0,137.04 80.5,137.26 81.0,137.62 81.5,137.67 82.0,137.26 82.5,136.89 83.0,137.19 83.5,137.17 84.0,137.09 84.5,137.42 85.0,137.64 85.5,137.60 86.0,137.59 86.5,137.62 87.0,137.84 87.5,137.80 88.0,137.75 88.5,137.73 89.0,137.33 89.5,137.61 90.0,137.71 90.5,137.70 91.0,137.24 91.5,137.20 92.0,137.44 92.5,137.11 93.0,137.20 93.5,137.47 94.0,137.21 94.5,137.58 95.0,137.61 95.5,137.50 96.0,137.52 96.5,137.58 97.0,137.53 97.5,137.67 98.0,137.44 98.5,137.34 99.0,137.54 99.5,137.47 100.0,137.27 100.5,137.47 101.0,137.68 101.5,137.46 102.0,137.16 102.5,137.20 103.0,137.22 103.5,137.20 104.0,137.48 104.5,137.21 105.0,137.45 105.5,137.14 106.0,137.02 106.5,137.19 107.0,137.36 107.5,137.39 108.0,137.27 108.5,137.08 109.0,136.80 109.5,136.42 110.0,135.59 110.5,134.60 111.0,133.57 111.5,132.82 112.0,133.14 112.5,134.10 113.0,135.47 113.5,136.21 114.0,136.57 114.5,136.78 115.0,136.95 115.5,137.21 116.0,137.13 116.5,137.22 117.0,137.54 117.5,136.94 118.0,136.85 118.5,137.04 119.0,137.18 119.5,137.24 120.0,137.15 120.5,137.30 121.0,137.32 121.5,137.19 122.0,137.64 122.5,137.54 123.0,137.31 123.5,137.26 124.0,137.20 124.5,137.20 125.0,136.71 125.5,136.83 126.0,137.16 126.5,136.97 127.0,137.06 127.5,137.29 128.0,137.41 128.5,137.59 129.0,137.13 129.5,137.09 130.0,137.07 130.5,137.23 131.0,137.41 131.5,136.84 132.0,137.17 132.5,136.92 133.0,137.14 133.5,136.89 134.0,137.03 134.5,137.30 135.0,137.22 135.5,137.23 136.0,137.35 136.5,137.30 137.0,137.23 137.5,137.47 138.0,137.53 138.5,137.33 139.0,137.75 139.5,137.30 140.0,137.40 140.5,137.25 141.0,137.22 141.5,137.31 142.0,137.28 142.5,137.33 143.0,136.97 143.5,136.76 144.0,137.01 144.5,136.88 145.0,136.78 145.5,136.65 146.0,137.06 146.5,137.21 147.0,137.43 147.5,137.12 148.0,137.11 148.5,136.89 149.0,137.10 149.5,137.38 150.0,137.10 150.5,137.37 151.0,137.43 151.5,137.26 152.0,136.83 152.5,137.18 153.0,137.12 153.5,136.99 154.0,137.10 154.5,137.16 155.0,137.40 155.5,137.08 156.0,137.28 156.5,137.47 157.0,137.57 157.5,137.34 158.0,137.09 158.5,137.27 159.0,137.21 159.5,137.17 160.0,137.38 160.5,137.20 161.0,136.73 161.5,136.79 162.0,136.56 162.5,136.90 163.0,137.01 163.5,136.91 164.0,136.96 164.5,137.13 165.0,137.10 165.5,137.30 166.0,137.17 166.5,137.28 167.0,137.42 167.5,137.53 168.0,137.17 168.5,137.22 169.0,136.74 169.5,136.59 170.0,136.31 170.5,136.67 171.0,136.43 171.5,136.46 172.0,136.37 172.5,136.21 173.0,135.73 173.5,135.06 174.0,133.99 174.5,131.70 175.0,129.04 175.5,127.02 176.0,126.69 176.5,128.25 177.0,130.84 177.5,133.40 178.0,134.62 178.5,135.50 179.0,136.24 179.5,136.62 180.0,136.70 180.5,136.90 181.0,136.91 181.5,136.68 182.0,136.48 182.5,136.54 183.0,136.85 183.5,136.78 184.0,136.67 184.5,136.63 185.0,136.47 185.5,136.62 186.0,136.51 186.5,136.71 187.0,136.33 187.5,136.56 188.0,136.50 188.5,136.19 189.0,136.41 189.5,136.22 190.0,135.47 190.5,134.74 191.0,133.68 191.5,131.88 192.0,130.26 192.5,129.51 193.0,130.26 193.5,131.96 194.0,133.96 194.5,135.33 195.0,136.14 195.5,136.13 196.0,136.62 196.5,136.98 197.0,136.91 197.5,136.84 198.0,137.24 198.5,136.83 199.0,136.98 199.5,137.43 200.0,137.11 200.5,137.21 201.0,137.48 201.5,137.29 202.0,137.30 202.5,137.37 203.0,137.09 203.5,137.07 204.0,137.13 204.5,137.26 205.0,137.19 205.5,137.12 206.0,136.93 206.5,136.93 207.0,137.16 207.5,137.16 208.0,136.98 208.5,136.88 209.0,137.45 209.5,137.52 210.0,137.47 210.5,136.86 211.0,137.08 211.5,137.18 212.0,137.46 212.5,137.40 213.0,137.27 213.5,137.31 214.0,136.88 214.5,137.16 215.0,137.20 215.5,137.04 216.0,137.31 216.5,137.56 217.0,137.13 217.5,137.00 218.0,137.10 218.5,137.14 219.0,137.05 219.5,136.90 220.0,137.36 220.5,137.44 221.0,137.09 221.5,136.85 222.0,137.25 222.5,137.36 223.0,137.57 223.5,137.51 224.0,137.17 224.5,137.16 225.0,136.70 225.5,136.67 226.0,136.75 226.5,136.87 227.0,136.64 227.5,136.49 228.0,136.33 228.5,135.98 229.0,135.57 229.5,135.06 230.0,134.65 230.5,134.82 231.0,135.11 231.5,135.41 232.0,135.81 232.5,136.26 233.0,136.54 233.5,136.77 234.0,136.88 234.5,136.98 235.0,136.98 235.5,136.78 236.0,136.96 236.5,137.19 237.0,137.22 237.5,137.12 238.0,137.18 238.5,136.96 239.0,136.66 239.5,136.83 240.0,136.75 240.5,137.00 241.0,136.82 241.5,136.44 242.0,136.49 242.5,136.98 243.0,136.92 243.5,136.70 244.0,136.67 244.5,136.88 245.0,136.98 245.5,136.98 246.0,137.19 246.5,137.17 247.0,136.99 247.5,136.97 248.0,137.11 248.5,137.02 249.0,136.91 249.5,136.37 250.0,136.07 250.5,135.85 251.0,135.18 251.5,134.22 252.0,130.66 252.5,118.85 253.0,92.42 253.5,63.33 254.0,60.15 254.5,79.71 255.0,106.22 255.5,124.81 256.0,132.29 256.5,134.81 257.0,135.73 257.5,136.03 258.0,136.02 258.5,136.29 259.0,136.50 259.5,136.78 260.0,136.91 260.5,136.86 261.0,136.99 261.5,137.03 262.0,136.99 262.5,136.95 263.0,136.88 263.5,137.01 264.0,136.77 264.5,136.71 265.0,136.79 265.5,136.58 266.0,136.63 266.5,136.38 267.0,136.47 267.5,136.75 268.0,136.92 268.5,136.91 269.0,136.87 269.5,136.63 270.0,137.07 270.5,137.10 271.0,137.22 271.5,136.94 272.0,136.89 272.5,136.57 273.0,136.84 273.5,137.03 274.0,136.63 274.5,136.72 275.0,136.90 275.5,136.57 276.0,136.36 276.5,136.37 277.0,136.45 277.5,136.36 278.0,136.56 278.5,136.72 279.0,136.88 279.5,136.99 280.0,137.19 280.5,137.25 281.0,136.84 281.5,136.73 282.0,136.56 282.5,136.45 283.0,136.56 283.5,136.64 284.0,136.77 284.5,136.46 285.0,136.33 285.5,136.46 286.0,136.48 286.5,136.45 287.0,136.43 287.5,136.25 288.0,136.33 288.5,136.22 289.0,135.98 289.5,135.63 290.0,135.41 290.5,134.75 291.0,134.67 291.5,134.85 292.0,134.79 292.5,135.17 293.0,135.51 293.5,135.52 294.0,135.80 294.5,136.01 295.0,136.30 295.5,136.52 296.0,136.54 296.5,136.42 297.0,136.47 297.5,136.52 298.0,136.69 298.5,136.72 299.0,136.55 299.5,136.34 300.0,136.38 300.5,136.35 301.0,136.26 301.5,136.39 302.0,136.40 302.5,136.52 303.0,136.66 303.5,136.58 304.0,137.02 304.5,136.81 305.0,136.94 305.5,136.84 306.0,136.96 306.5,136.41 307.0,136.36 307.5,136.52 308.0,136.67 308.5,137.08 309.0,136.96 309.5,137.06 310.0,137.03 310.5,137.04 311.0,136.96 311.5,136.80 312.0,136.82 312.5,136.54 313.0,136.78 313.5,136.53 314.0,136.60 314.5,136.98 315.0,136.79 315.5,136.71 316.0,136.87 316.5,136.75 317.0,136.53 317.5,136.58 318.0,136.67 318.5,136.73 319.0,136.50 319.5,136.80 320.0,136.95 320.5,136.73 321.0,136.62 321.5,136.38 322.0,136.50 322.5,136.09 323.0,135.91 323.5,135.35 324.0,134.66 324.5,134.12 325.0,133.56 325.5,132.81 326.0,132.34 326.5,132.65 327.0,133.10 327.5,133.84 328.0,134.81 328.5,135.51 329.0,135.73 329.5,136.41 330.0,136.43 330.5,136.58 331.0,136.42 331.5,136.44 332.0,136.15 332.5,136.61 333.0,136.82 333.5,136.49 334.0,136.24 334.5,136.07 335.0,136.48 335.5,136.43 336.0,136.47 336.5,136.46 337.0,136.48 337.5,136.32 338.0,136.43 338.5,136.23 339.0,136.36 339.5,136.51 340.0,136.62 340.5,136.57 341.0,136.41 341.5,136.51 342.0,136.46 342.5,136.79 343.0,136.85 343.5,136.73 344.0,136.59 344.5,136.46 345.0,136.35 345.5,136.38 346.0,136.52 346.5,136.64 347.0,136.72 347.5,137.05 348.0,136.74 348.5,136.68 349.0,137.15 349.5,136.59 350.0,136.49 350.5,136.56 351.0,136.60 351.5,136.67 352.0,136.59 352.5,136.66 353.0,136.64 353.5,136.75 354.0,136.34 354.5,136.28 355.0,136.40 355.5,136.29 356.0,136.22 356.5,136.47 357.0,136.40 357.5,136.58 358.0,136.71 358.5,136.71 359.0,136.75 359.5,136.66 360.0,136.37 360.5,136.44 361.0,136.57 361.5,136.47 362.0,136.49 362.5,136.65 363.0,136.46 363.5,136.61 364.0,136.92 364.5,136.67 365.0,136.65 365.5,136.58 366.0,136.84 366.5,136.78 367.0,136.84 367.5,136.60 368.0,136.57 368.5,136.55 369.0,136.22 369.5,136.60 370.0,136.73 370.5,136.33 371.0,136.54 371.5,136.50 372.0,136.58 372.5,136.61 373.0,136.30 373.5,136.33 374.0,136.66 374.5,136.48 375.0,136.29 375.5,136.11 376.0,136.03 376.5,136.25 377.0,136.63 377.5,136.61 378.0,136.56 378.5,136.88 379.0,136.55 379.5,136.29 380.0,136.31 380.5,136.26 381.0,135.87 381.5,135.52 382.0,135.48 382.5,135.36 383.0,134.97 383.5,134.95 384.0,134.94 384.5,135.20 385.0,135.35 385.5,135.54 386.0,135.67 386.5,136.05 387.0,136.36 387.5,136.25 388.0,136.41 388.5,136.21 389.0,136.24 389.5,136.37 390.0,136.57 390.5,136.33 391.0,136.23 391.5,136.19 392.0,135.83 392.5,135.83 393.0,135.64 393.5,135.59 394.0,135.07 394.5,134.08 395.0,132.73 395.5,130.05 396.0,126.03 396.5,122.95 397.0,122.67 397.5,124.35 398.0,127.03 398.5,129.86 399.0,132.43 399.5,134.16 400.0,135.23 400.5,135.60 401.0,135.87 401.5,135.86 402.0,136.04 402.5,136.41 403.0,136.21 403.5,136.65 404.0,136.38 404.5,136.35 405.0,136.36 405.5,136.52 406.0,136.22 406.5,135.88 407.0,136.17 407.5,136.38 408.0,136.47 408.5,136.89 409.0,136.71 409.5,136.61 410.0,136.67 410.5,136.61 411.0,136.80 411.5,136.40 412.0,136.31 412.5,135.70 413.0,136.11 413.5,136.14 414.0,136.39 414.5,136.76 415.0,136.59 415.5,136.44 416.0,136.31 416.5,136.17 417.0,136.12 417.5,136.32 418.0,136.33 418.5,136.34 419.0,136.31 419.5,136.48 420.0,136.50 420.5,136.38 421.0,136.44 421.5,136.32 422.0,136.06 422.5,136.36 423.0,136.35 423.5,136.08 424.0,136.27 424.5,136.24 425.0,135.87 425.5,136.20 426.0,136.16 426.5,136.23 427.0,136.13 427.5,135.99 428.0,135.65 428.5,135.88 429.0,135.83 429.5,135.73 430.0,135.77 430.5,135.73 431.0,135.80 431.5,135.63 432.0,135.58 432.5,135.14 433.0,135.18 433.5,135.37 434.0,135.59 434.5,135.39 435.0,135.30 435.5,135.53 436.0,135.30 436.5,135.33 437.0,135.50 437.5,135.28 438.0,135.34 438.5,135.00 439.0,134.94 439.5,134.83 440.0,134.78 440.5,134.91 441.0,135.19 441.5,134.79 442.0,134.55 442.5,134.58 443.0,134.30 443.5,134.40 444.0,134.46 444.5,134.33 445.0,134.40 445.5,134.08 446.0,134.32 446.5,134.06 447.0,134.07 447.5,134.11 448.0,134.18 448.5,134.46 449.0,134.51 449.5,134.47 450.0,134.63 450.5,134.93 451.0,134.84 451.5,134.87 452.0,135.06 452.5,135.02 453.0,134.73 453.5,135.25 454.0,135.53 454.5,134.95 455.0,134.97 455.5,135.08 456.0,135.25 456.5,135.32 457.0,135.20 457.5,135.00 458.0,135.10 458.5,135.33 459.0,135.10 459.5,134.98 460.0,135.10 460.5,134.83 461.0,134.98 461.5,135.05 462.0,135.25 462.5,135.18 463.0,135.10 463.5,135.15 464.0,135.25 464.5,135.20 465.0,135.30 465.5,135.50 466.0,135.70 466.5,135.92 467.0,135.61 467.5,135.49 468.0,135.05 468.5,135.58 469.0,135.43 469.5,135.47 470.0,135.60 470.5,135.33 471.0,135.50 471.5,135.51 472.0,135.20 472.5,135.39 473.0,135.66 473.5,135.28 474.0,135.53 474.5,135.57 475.0,135.65 475.5,135.68 476.0,135.86 476.5,135.69 477.0,135.79 477.5,135.61 478.0,135.71 478.5,135.50 479.0,135.49 479.5,135.82 480.0,135.79 480.5,135.66 481.0,135.40 481.5,135.31 482.0,135.43 482.5,135.64 483.0,135.67 483.5,135.71 484.0,135.63 484.5,135.83 485.0,135.64 485.5,135.49 486.0,135.66 486.5,135.62 487.0,135.53 487.5,135.42 488.0,135.41 488.5,135.57 489.0,135.61 489.5,135.35 490.0,135.49 490.5,135.53 491.0,135.34 491.5,135.55 492.0,135.48 492.5,135.43 493.0,135.60 493.5,135.80 494.0,135.55 494.5,135.61 495.0,135.41 495.5,135.86 496.0,135.62 496.5,135.78 497.0,135.55 497.5,135.67 498.0,135.99 498.5,135.33 499.0,135.31 499.5,135.47 500.0,135.45 500.5,135.34 501.0,135.78 501.5,135.67 502.0,135.29 502.5,135.51 503.0,135.18 503.5,135.50 504.0,135.37 504.5,135.43 505.0,135.66 505.5,135.59 506.0,135.28 506.5,135.03 507.0,135.40 507.5,135.54 508.0,135.34 508.5,135.52 509.0,135.55 509.5,135.60 510.0,135.10 510.5,135.14 511.0,135.38 511.5,135.48 512.0,135.56 512.5,134.99 513.0,135.11 513.5,135.21 514.0,135.62 514.5,135.19 515.0,134.98 515.5,134.82 516.0,134.65 516.5,133.72 517.0,132.21 517.5,128.99 518.0,125.29 518.5,122.78 519.0,123.53 519.5,125.25 520.0,126.36 520.5,128.31 521.0,130.62 521.5,132.51 522.0,133.88 522.5,134.73 523.0,134.79 523.5,134.95 524.0,135.16 524.5,135.29 525.0,135.22 525.5,134.87 526.0,135.27 526.5,135.34 527.0,135.34 527.5,135.29 528.0,135.36 528.5,135.28 529.0,135.12 529.5,135.08 530.0,135.09 530.5,135.09 531.0,134.99 531.5,135.25 532.0,135.06 532.5,135.31 533.0,135.15 533.5,135.30 534.0,135.58 534.5,135.53 535.0,135.34 535.5,135.36 536.0,135.39 536.5,135.07 537.0,135.08 537.5,135.23 538.0,135.20" fill="none" stroke="#0D60DB" stroke-width="2.9" stroke-linejoin="round"/>
<rect x="46" y="349" width="494" height="3.2" fill="#000"/>
<text class="club" transform="translate(253.6,58.5) scale(1.15,1.03)">&#9827;</text><text class="club" transform="translate(396.2,100.2) scale(1.15,1.03)">&#9827;</text><text class="club" transform="translate(517.8,115.8) scale(1.15,1.03)">&#9827;</text><text class="club" transform="translate(254.9,206.0) scale(1.15,1.03)">&#9827;</text><text class="club" transform="translate(397.1,201.8) scale(1.15,1.03)">&#9827;</text><text class="club" transform="translate(519.4,146.8) scale(1.15,1.03)">&#9827;</text><text class="club" transform="translate(254.5,236.3) scale(1.15,1.03)">&#9827;</text><text class="club" transform="translate(397.5,261.7) scale(1.15,1.03)">&#9827;</text><text class="club" transform="translate(519.0,251.6) scale(1.15,1.03)">&#9827;</text><text class="club" transform="translate(441.8,31.8) scale(1.15,1.03)">&#9827;</text><text class="dia" transform="translate(111.4,126.7) scale(1.2,1)">&#9830;</text><text class="dia" transform="translate(176.0,120.5) scale(1.2,1)">&#9830;</text><text class="dia" transform="translate(193.6,121.7) scale(1.2,1)">&#9830;</text><text class="dia" transform="translate(230.0,127.7) scale(1.2,1)">&#9830;</text><text class="dia" transform="translate(290.9,129.1) scale(1.2,1)">&#9830;</text><text class="dia" transform="translate(326.0,126.4) scale(1.2,1)">&#9830;</text><text class="dia" transform="translate(396.3,116.0) scale(1.2,1)">&#9830;</text><text class="dia" transform="translate(112.3,217.7) scale(1.2,1)">&#9830;</text><text class="dia" transform="translate(176.8,211.3) scale(1.2,1)">&#9830;</text><text class="dia" transform="translate(194.2,212.7) scale(1.2,1)">&#9830;</text><text class="dia" transform="translate(230.3,217.6) scale(1.2,1)">&#9830;</text><text class="dia" transform="translate(291.4,219.5) scale(1.2,1)">&#9830;</text><text class="dia" transform="translate(327.3,217.2) scale(1.2,1)">&#9830;</text><text class="dia" transform="translate(397.1,218.7) scale(1.2,1)">&#9830;</text><text class="dia" transform="translate(111.8,277.7) scale(1.2,1)">&#9830;</text><text class="dia" transform="translate(174.6,275.1) scale(1.2,1)">&#9830;</text><text class="dia" transform="translate(191.8,276.4) scale(1.2,1)">&#9830;</text><text class="dia" transform="translate(230.0,280.5) scale(1.2,1)">&#9830;</text><text class="dia" transform="translate(291.6,279.1) scale(1.2,1)">&#9830;</text><text class="dia" transform="translate(327.1,278.2) scale(1.2,1)">&#9830;</text><text class="dia" transform="translate(397.5,276.5) scale(1.2,1)">&#9830;</text><text class="dia" transform="translate(441.8,60.2) scale(1.2,1)">&#9830;</text>
<line x1="57" y1="29.9" x2="99.0" y2="29.9" stroke="#0D60DB" stroke-width="2.8"/>
<line x1="57" y1="52.9" x2="99.0" y2="52.9" stroke="#EC2A2E" stroke-width="2.8"/>
<line x1="57" y1="76" x2="99.0" y2="76" stroke="#3c3c3c" stroke-width="2.8"/>
<text class="lg" transform="translate(105.0,36.4) scale(1.02,1)">1344h</text>
<text class="lg" transform="translate(103.4,59.6) scale(1.04,1)">672h</text>
<text class="lg" transform="translate(103.4,82.4) scale(1.04,1)">336h</text>
<text class="lg2" transform="translate(454.4,32.6) scale(1.04,1)">Fe-Cr</text>
<text class="lg2" transform="translate(453.6,60.6) scale(1.04,1)">(Fe,Cr)<tspan style="font-size:12.2px" dy="4.0">2</tspan><tspan dy="-4.0">O</tspan><tspan style="font-size:12.2px" dy="4.0">3</tspan></text>
<text class="pdf" transform="translate(425.6,319.6)">PDF#34-0396</text>
<text class="pdf" transform="translate(425.6,370.8)">PDF#02-1357</text>
<text class="tl" transform="translate(81.70,429.2) scale(1.02,1)">20</text><text class="tl" transform="translate(152.30,429.2) scale(1.02,1)">30</text><text class="tl" transform="translate(222.90,429.2) scale(1.02,1)">40</text><text class="tl" transform="translate(293.50,429.2) scale(1.02,1)">50</text><text class="tl" transform="translate(364.10,429.2) scale(1.02,1)">60</text><text class="tl" transform="translate(434.70,429.2) scale(1.02,1)">70</text><text class="tl" transform="translate(505.30,429.2) scale(1.02,1)">80</text>
<text style="font-size:21.2px" transform="translate(249.1,465.6) scale(1.03,1)">2<tspan style="font-family:'DejaVu Serif',serif;font-size:0.92em">θ</tspan>/degree</text>
<text style="font-size:21.8px" transform="translate(22.3,273.5) rotate(-90) scale(0.99,1.07)">intensity (CPS)</text>
</svg>
</body></html>
